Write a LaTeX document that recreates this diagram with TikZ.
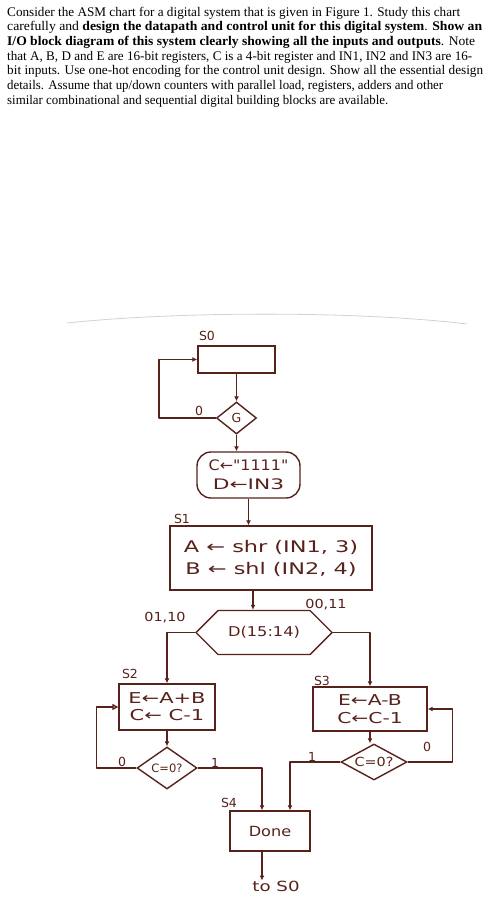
\documentclass[tikz,border=0pt]{standalone}
\usepackage{fontspec}
\usepackage{graphicx}
\setmainfont{Liberation Serif}
\newfontfamily\handfont{DejaVu Sans}
\usetikzlibrary{arrows.meta,shapes.geometric,shapes.misc,calc}
\definecolor{ink}{RGB}{88,34,28}
\newcommand\hw[2]{\scalebox{#1}[1]{#2}}
\newcommand\tl[2]{\resizebox{#1}{\height}{#2}}
\begin{document}
\begin{tikzpicture}[x=1pt,y=-1pt,
  txt/.style={anchor=base west,inner sep=0pt,font=\fontsize{13.2}{14.7}\selectfont},
  box/.style={draw=ink,line width=1.4pt,rectangle,inner sep=0pt,text=ink,align=center},
  rbox/.style={box,rounded corners=14pt},
  hexa/.style={box,chamfered rectangle,chamfered rectangle xsep=8pt,chamfered rectangle ysep=16pt},
  dia/.style={draw=ink,line width=1.4pt,diamond,aspect=1.6,inner sep=0pt,text=ink},
  lab/.style={text=ink,inner sep=0pt,font=\fontsize{12.5}{12.5}\handfont},
  arr/.style={draw=ink,line width=1.4pt,line join=round,-{Latex[length=5pt,width=5pt]}},
  arro/.style={draw=ink,line width=1.4pt,line join=round,-{Triangle[open,length=6pt,width=6pt]}}]
\useasboundingbox (0,0) rectangle (488,906);
\fill[white] (0,0) rectangle (488,906);

% problem statement
\node[txt] (t1) at (7,16) {\tl{453pt}{Consider the ASM chart for a digital system that is given in Figure 1.  Study this chart}};
\node[txt] (t2) at (7,30.7) {\tl{475pt}{carefully and \textbf{design the datapath and control unit for this digital system}. \textbf{Show an}}};
\node[txt] (t3) at (7,45.4) {\tl{468pt}{\textbf{I/O block diagram of this system clearly showing all the inputs and outputs}. Note}};
\node[txt] (t4) at (7,60.1) {\tl{465pt}{that A, B, D and E are 16-bit registers, C is a 4-bit register and IN1, IN2 and IN3 are 16-}};
\node[txt] (t5) at (7,74.8) {\tl{476pt}{bit inputs. Use one-hot encoding for the control unit design.  Show all the essential design}};
\node[txt] (t6) at (7,89.5) {\tl{436pt}{details. Assume that up/down counters with parallel load, registers, adders and other}};
\node[txt] (t7) at (7,104.2) {\tl{381pt}{similar combinational and sequential digital building blocks are available.}};

% faint scan curve
\draw[gray!35,line width=0.8pt] (67,323) .. controls (180,311) and (360,311) .. (467,324);

% S0
\node[lab] (ls0) at (207,336) {S0};
\node[box,minimum width=77pt,minimum height=27pt] (s0) at (236.5,359.5) {};
\node[dia,minimum width=40pt,minimum height=32pt,font=\fontsize{12.5}{12.5}\handfont] (g) at (236.5,418) {G};
\node[lab] (l0a) at (199,411) {0};
\node[rbox,minimum width=103pt,minimum height=46pt,font=\fontsize{14.5}{19}\handfont] (cbox) at (248.5,475)
  {\hw{1.1}{C←"1111"}\\\hw{1.5}{D←IN3}};

% S1
\node[lab] (ls1) at (182,519) {S1};
\node[box,minimum width=202pt,minimum height=64pt,font=\fontsize{16}{22}\handfont] (s1) at (271,558)
  {\hw{1.4}{A ← shr (IN1, 3)}\\\hw{1.4}{B ← shl (IN2, 4)}};

% D(15:14)
\node[hexa,minimum width=136pt,minimum height=32pt,font=\fontsize{13.5}{13.5}\handfont] (dd) at (264,632.5) {\hw{1.2}{D(15:14)}};
\node[lab] (l0110) at (165,618) {\hw{1.15}{01,10}};
\node[lab] (l0011) at (326,605) {\hw{1.15}{00,11}};
\coordinate (jx) at (253,600);

% S2
\node[lab] (ls2) at (130,674) {S2};
\node[box,minimum width=96pt,minimum height=46pt,font=\fontsize{15}{17}\handfont] (s2) at (167,707)
  {\hw{1.4}{E←A+B}\\\hw{1.4}{C← C-1}};
\node[dia,minimum width=60pt,minimum height=42pt,font=\fontsize{11.5}{11.5}\handfont] (d2) at (167,768) {C=0?};
\node[lab] (l0b) at (122,762) {0};
\node[lab] (l1b) at (215,763) {1};

% S3
\node[lab] (ls3) at (322,681) {S3};
\node[box,minimum width=114pt,minimum height=44pt,font=\fontsize{15}{18}\handfont] (s3) at (370,709)
  {\hw{1.35}{E←A-B}\\\hw{1.35}{C←C-1}};
\node[dia,minimum width=66pt,minimum height=36pt,font=\fontsize{12.5}{12.5}\handfont] (d3) at (374,762) {\hw{1.15}{C=0?}};
\node[lab] (l0c) at (427,747) {0};
\node[lab] (l1c) at (312,757) {1};

% S4
\node[lab] (ls4) at (229,803) {S4};
\node[box,minimum width=80pt,minimum height=40pt,font=\fontsize{14}{14}\handfont] (done) at (270,831) {\hw{1.15}{Done}};
\node[lab,font=\fontsize{14}{14}\handfont] (tos0) at (276,886) {\hw{1.3}{to S0}};

% connectors
\draw[arr] (s0.south) -- (g.north);
\draw[arr] (g.west) -- ++(-57,0) |- (s0.west);
\draw[arr] (g.south) -- (g.south |- cbox.north);
\draw[arr] (cbox.south) -- (cbox.south |- s1.north);
\draw[arr] (s1.south -| jx) -- (dd.north -| jx);
\draw[arr] (dd.west) -| (s2.north);
\draw[arr] (dd.east) -| (s3.north);
\draw[arr] (s2.south) -- (d2.north);
\draw[arro] (d2.west) -- ++(-40,0) |- (s2.west);
\draw[arr] (d2.east) -| ([xshift=-8pt]done.north);
\draw[arr] (s3.south) -- (s3.south |- d3.north);
\draw[arr] (d3.east) -- ++(45,0) |- (s3.east);
\draw[arr] (d3.west) -| ([xshift=20pt]done.north);
\draw[arr] ([xshift=-8pt]done.south) -- ([xshift=-8pt]done.south |- tos0.north);
\end{tikzpicture}
\end{document}
